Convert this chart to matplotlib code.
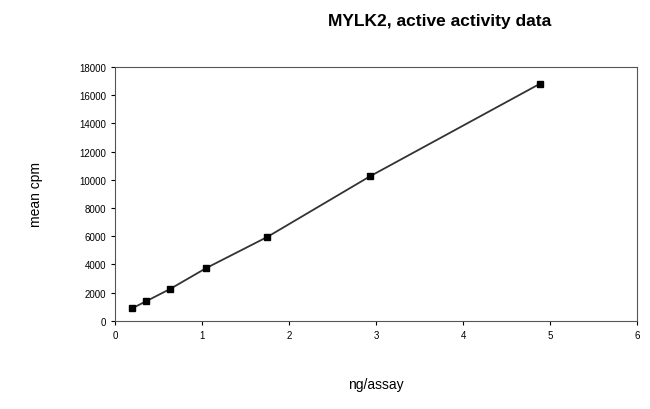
import matplotlib
matplotlib.use("Agg")
import matplotlib.pyplot as plt

ng = [0.2, 0.36, 0.63, 1.05, 1.75, 2.93, 4.88]
cpm = [900, 1400, 2250, 3750, 5950, 10250, 16800]
xticks = [0, 1, 2, 3, 4, 5, 6]
yticks = list(range(0, 18001, 2000))

plt.rcParams['font.family'] = ['Liberation Sans', 'DejaVu Sans']
fig = plt.figure(figsize=(6.5, 4.1), dpi=100)
ax = fig.add_axes([0.177, 0.215, 0.803, 0.619])
ax.plot(ng, cpm, color='#333333', lw=1.3, marker='s', ms=5, mfc='black', mec='black')
ax.set_xlim(0, 6)
ax.set_ylim(0, 18000)
ax.set_xticks(xticks)
ax.set_yticks(yticks)
ax.tick_params(labelsize=7, length=3, direction='out')
for s in ax.spines.values():
    s.set_color('#555555'); s.set_linewidth(0.8)
ax.set_xlabel('ng/assay', fontsize=10, labelpad=27)
ax.set_ylabel('mean cpm', fontsize=10, labelpad=26)
fig.text(0.677, 0.948, 'MYLK2, active activity data', fontsize=12.5, fontweight='bold', ha='center', va='center')
fig.savefig('out.png', dpi=100)
